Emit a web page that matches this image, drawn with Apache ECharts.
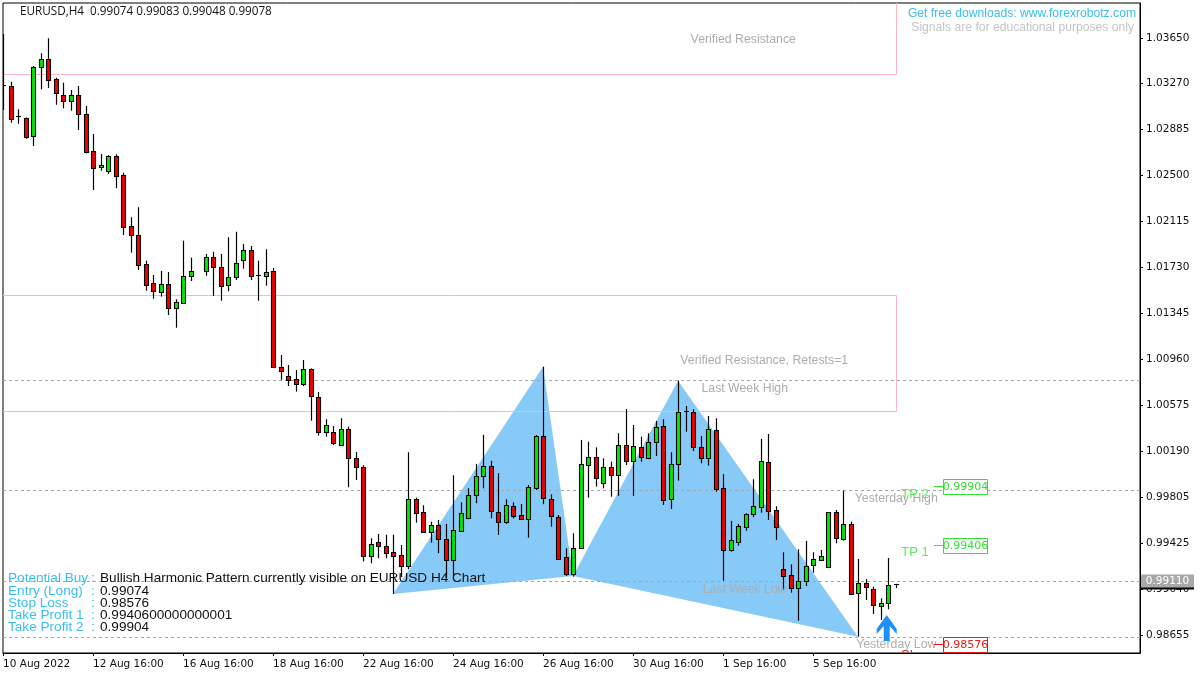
<!DOCTYPE html>
<html><head><meta charset="utf-8">
<style>html,body{margin:0;padding:0;background:#fff}#c{width:1200px;height:675px}</style>
<script src="https://cdn.jsdelivr.net/npm/echarts@6/dist/echarts.min.js"></script>
</head><body><div id="c"></div>
<script>
// [open, high, low, close] for each H4 bar
const ohlc = [
[1.03251,1.03684,1.03048,1.03255],[1.03251,1.03284,1.02941,1.02975],[1.02994,1.03053,1.02933,1.02985],[1.02978,1.02985,1.02807,1.02824],
[1.02833,1.03416,1.02746,1.03410],[1.03405,1.03522,1.03221,1.03472],[1.03472,1.03648,1.03232,1.03299],[1.03305,1.03318,1.03092,1.03192],
[1.03173,1.03276,1.03062,1.03125],[1.03125,1.03215,1.03042,1.03173],[1.03173,1.03248,1.02880,1.03014],[1.03017,1.03081,1.02685,1.02699],
[1.02702,1.02847,1.02378,1.02560],[1.02568,1.02679,1.02540,1.02585],[1.02540,1.02671,1.02512,1.02663],[1.02663,1.02677,1.02393,1.02498],
[1.02506,1.02523,1.02002,1.02066],[1.02077,1.02150,1.01854,1.02002],[1.02004,1.02234,1.01709,1.01751],[1.01757,1.01787,1.01536,1.01586],
[1.01598,1.01667,1.01469,1.01531],[1.01527,1.01701,1.01486,1.01589],[1.01589,1.01692,1.01332,1.01391],[1.01391,1.01464,1.01226,1.01439],
[1.01430,1.01954,1.01425,1.01659],[1.01659,1.01812,1.01617,1.01703],null,[1.01703,1.01843,1.01661,1.01815],
[1.01815,1.01862,1.01491,1.01737],[1.01737,1.01843,1.01452,1.01578],[1.01586,1.01983,1.01531,1.01650],[1.01648,1.02029,1.01625,1.01770],
[1.01790,1.01926,1.01720,1.01879],[1.01879,1.01910,1.01625,1.01661],[1.01669,1.01787,1.01452,1.01665],[1.01661,1.01882,1.01578,1.01695],
[1.01698,1.01726,1.00889,1.00895],[1.00897,1.00998,1.00789,1.00864],[1.00822,1.00914,1.00738,1.00789],[1.00794,1.00872,1.00691,1.00755],
[1.00755,1.00956,1.00738,1.00883],[1.00883,1.00886,1.00448,1.00655],[1.00649,1.00688,1.00323,1.00356],[1.00356,1.00460,1.00314,1.00412],
[1.00351,1.00404,1.00245,1.00259],[1.00247,1.00468,1.00236,1.00381],[1.00381,1.00398,0.99891,1.00136],[1.00139,1.00186,0.99952,1.00058],
[1.00058,1.00075,0.99271,0.99318],[0.99318,0.99464,0.99255,0.99419],[0.99433,0.99500,0.99297,0.99400],[0.99400,0.99494,0.99297,0.99344],
[0.99347,0.99494,0.98998,0.99318],[0.99322,0.99408,0.99140,0.99232],[0.99232,1.00184,0.99205,0.99790],[0.99790,0.99804,0.99595,0.99673],
[0.99687,0.99740,0.99517,0.99519],[0.99519,0.99603,0.99427,0.99573],[0.99573,0.99617,0.99339,0.99458],[0.99461,0.99584,0.99132,0.99280],
[0.99280,0.99991,0.99143,0.99531],[0.99528,0.99765,0.99519,0.99673],[0.99631,0.99882,0.99623,0.99824],[0.99824,1.00086,0.99757,0.99988],
[0.99988,1.00330,0.99882,1.00072],[1.00072,1.00113,0.99631,0.99695],[0.99687,1.00008,0.99492,0.99603],[0.99598,0.99790,0.99584,0.99745],
[0.99737,0.99765,0.99631,0.99651],[0.99659,0.99751,0.99617,0.99623],[0.99626,0.99910,0.99469,0.99896],[0.99882,1.00328,0.99868,1.00322],
[1.00322,1.00900,0.99749,0.99799],[0.99795,0.99832,0.99561,0.99648],[0.99645,0.99659,0.99282,0.99291],[0.99305,0.99380,0.99149,0.99163],
[0.99163,0.99506,0.99143,0.99383],[0.99380,1.00287,0.99375,1.00083],[1.00080,1.00272,0.99804,1.00147],[1.00144,1.00225,0.99896,0.99971],
[0.99929,1.00133,0.99882,1.00058],[1.00058,1.00105,0.99812,0.99994],[0.99994,1.00343,0.99820,1.00247],[1.00247,1.00546,1.00077,1.00113],
[1.00113,1.00412,0.99818,1.00239],[1.00230,1.00314,1.00105,1.00147],[1.00133,1.00343,1.00125,1.00272],[1.00267,1.00445,1.00153,1.00398],
[1.00404,1.00460,0.99743,0.99785],[0.99790,1.00184,0.99709,1.00083],[1.00083,1.00783,0.99946,1.00523],[1.00521,1.00571,1.00356,1.00525],
[1.00518,1.00543,1.00194,1.00225],[1.00230,1.00320,1.00092,1.00133],[1.00133,1.00487,1.00072,1.00376],[1.00368,1.00468,0.99854,0.99877],
[0.99887,1.00000,0.99109,0.99366],[0.99364,0.99609,0.99352,0.99447],[0.99436,0.99584,0.99402,0.99567],[0.99561,0.99673,0.99528,0.99667],
[0.99665,0.99958,0.99640,0.99731],[0.99729,1.00295,0.99678,1.00108],[1.00100,1.00337,0.99617,0.99695],[0.99697,0.99731,0.99450,0.99561],
[0.99205,0.99347,0.99032,0.99151],[0.99154,0.99246,0.99009,0.99048],[0.99048,0.99372,0.98775,0.99109],[0.99109,0.99442,0.99065,0.99235],
[0.99241,0.99347,0.99176,0.99288],[0.99283,0.99366,0.99277,0.99316],[0.99227,0.99684,0.99225,0.99682],[0.99682,0.99701,0.99422,0.99464],
[0.99458,0.99862,0.99444,0.99581],[0.99581,0.99603,0.98990,0.98995],[0.99004,0.99291,0.98641,0.99088],[0.99088,0.99121,0.98948,0.99059],
[0.99040,0.99059,0.98831,0.98906],[0.98900,0.98962,0.98780,0.98920],[0.98925,0.99299,0.98870,0.99071],[0.99074,0.99083,0.99048,0.99078]
];
const timeLabels = ['10 Aug 2022','12 Aug 16:00','16 Aug 16:00','18 Aug 16:00','22 Aug 16:00','24 Aug 16:00','26 Aug 16:00','30 Aug 16:00','1 Sep 16:00','5 Sep 16:00'];
const barsPerTimeLabel = 12;
const priceTicks = [1.0365,1.0327,1.02885,1.025,1.02115,1.0173,1.01345,1.0096,1.00575,1.0019,0.99805,0.99425,0.9904,0.98655];
const priceMin = 0.98504, priceMax = 1.03943, barMax = 151.6;

// harmonic pattern pivots [bar, price]
const pivotX = [52,0.98998], pivotA = [72,1.00900], pivotB = [76,0.99149], pivotC = [90,1.00783], pivotD = [114,0.98641];
const patternTriangles = [[pivotX,pivotA,pivotB],[pivotB,pivotC,pivotD]];
// resistance zones [first bar, last bar, top, bottom]; they run off the chart's left edge, the first also off its top
const zones = [[-2,119,1.04000,1.03349],[-2,119,1.01500,1.00529]];
const levels = [1.00790,0.99864,0.99110,0.98641];
// chart annotations
const noteTexts = ['Verified Resistance','Verified Resistance, Retests=1','Last Week High','Yesterday High','Last Week Low','Yesterday Low','TP 2','TP 1','SL'];
const noteBars = [98.7,101.5,98.9,119.1,98.9,119.1,121.6,121.6,120.8];
const notePrices = [1.03642,1.00956,1.00722,0.99801,0.99040,0.98580,0.99843,0.99350,0.98488];
const noteKinds = ['g','g','g','g','g','g','tp','tp','sl'];
// trade level boxes
const tradeValues = [0.99904,0.99406,0.98576];
const tradeKinds = ['tp','tp','sl'];
const tradeBoxBar = 128.3, tradeLeaderBar = 124.1;
const arrowPoint = [118,0.98714];
const levelTag = 0.99110, currentPrice = 0.99078;
const headline = 'EURUSD,H4  0.99074 0.99083 0.99048 0.99078';
const promoTexts = ['Get free downloads: www.forexrobotz.com','Signals are for educational purposes only'];
const panelKeys = ['Potential Buy','Entry (Long)','Stop Loss','Take Profit 1','Take Profit 2'];
const panelValues = ['Bullish Harmonic Pattern currently visible on EURUSD H4 Chart','0.99074','0.98576','0.9940600000000001','0.99904'];

const AX = '"DejaVu Sans"', TXT = '"Liberation Sans"';
const GREEN = '#00E800', RED = '#EE0000', GRAY = '#ADADAD', TPC = '#55F055', SLC = '#EE2222', BLUE = '#3DBDEE';
const noteColor = {g:GRAY,tp:TPC,sl:SLC};

const crisp = v => Math.round(v) + 0.5;
const candleData = [];
ohlc.forEach((r,i)=>{ if(r) candleData.push([i,r[0],r[1],r[2],r[3]]); });

const series = [
 {type:'custom',name:'pattern',z:2,silent:true,clip:true,data:patternTriangles.map((t,i)=>[t[0][0],t[0][1],i]),
  encode:{x:0,y:1},renderItem(p,api){
    const t = patternTriangles[p.dataIndex];
    return {type:'polygon',shape:{points:t.map(v=>api.coord(v))},style:{fill:'#87CAF8'}};
 }},
 {type:'custom',name:'zones',z:3,silent:true,clip:true,data:zones.map(z=>[z[0],z[2]]),encode:{x:0,y:1},renderItem(p,api){
    const z = zones[p.dataIndex], a = api.coord([z[0],z[2]]), b = api.coord([z[1],z[3]]);
    return {type:'rect',shape:{x:crisp(a[0]),y:crisp(a[1]),width:Math.round(b[0]-a[0]),height:Math.round(b[1]-a[1])},
      style:{fill:'none',stroke:'#FFB4C6',lineWidth:1}};
 }},
 {type:'custom',name:'levels',z:3,silent:true,clip:true,data:levels.map(l=>[0,l]),encode:{x:0,y:1},renderItem(p,api){
    const a = api.coord([0,api.value(1)]), b = api.coord([barMax,api.value(1)]);
    return {type:'line',shape:{x1:a[0],y1:crisp(a[1]),x2:b[0],y2:crisp(a[1])},style:{stroke:'#A6A6A6',lineWidth:1,lineDash:[3,3]}};
 }},
 {type:'custom',name:'candles',z:4,silent:true,clip:true,data:candleData,encode:{x:0,y:[1,2,3,4]},renderItem(p,api){
    const i=api.value(0),o=api.value(1),h=api.value(2),l=api.value(3),c=api.value(4);
    const x=crisp(api.coord([i,o])[0]);
    const yo=api.coord([i,o])[1],yc=api.coord([i,c])[1],yh=api.coord([i,h])[1],yl=api.coord([i,l])[1];
    const top=crisp(Math.min(yo,yc)),bot=crisp(Math.max(yo,yc));
    const up=c>=o, flat=bot-top<1.5;
    return {type:'group',children:[
      {type:'line',shape:{x1:x,y1:yh,x2:x,y2:yl},style:{stroke:'#000',lineWidth:1.2}},
      flat?{type:'line',shape:{x1:x-2.5,y1:top,x2:x+2.5,y2:top},style:{stroke:'#000',lineWidth:1}}
          :{type:'rect',shape:{x:x-2,y:top,width:4,height:bot-top},style:{fill:up?GREEN:RED,stroke:'#000',lineWidth:1.1}}
    ]};
 }},
 {type:'custom',name:'arrow',z:5,silent:true,clip:true,data:[arrowPoint],encode:{x:0,y:1},renderItem(p,api){
    const c=api.coord([api.value(0),api.value(1)]),x=c[0]-1.3,y=c[1];
    return {type:'polygon',shape:{points:[[x,y-13],[x+10,y+1],[x+10,y+6],[x+3,y-2],[x+3,y+13],[x-3,y+13],[x-3,y-2],[x-10,y+6],[x-10,y+1]]},style:{fill:'#1E8FFF'}};
 }},
 {type:'custom',name:'notes',z:6,silent:true,clip:true,data:noteBars.map((b,i)=>[b,notePrices[i]]),encode:{x:0,y:1},renderItem(p,api){
    const c=api.coord([api.value(0),api.value(1)]),k=noteKinds[p.dataIndex];
    return {type:'text',x:c[0],y:c[1]+1,style:{text:noteTexts[p.dataIndex],fill:noteColor[k],font:(k==='g'?'12.3':'13')+'px '+TXT,align:'center',verticalAlign:'middle'}};
 }},
 {type:'custom',name:'tradeBoxes',z:6,silent:true,clip:true,data:tradeValues.map(v=>[tradeBoxBar,v]),encode:{x:0,y:1},renderItem(p,api){
    const v=api.value(1),k=tradeKinds[p.dataIndex],col=k==='sl'?'#E81C1C':'#33E033';
    const c=api.coord([tradeBoxBar,v]),s=api.coord([tradeLeaderBar,v]);
    const y=crisp(c[1]),x=crisp(c[0]-22);
    return {type:'group',children:[
      {type:'line',shape:{x1:s[0],y1:y,x2:x,y2:y},style:{stroke:col,lineWidth:1}},
      {type:'rect',shape:{x:x,y:y-7,width:44,height:15},style:{fill:'#fff',stroke:col,lineWidth:1}},
      {type:'text',x:x+22,y:y+0.5,style:{text:v.toFixed(5),fill:col,font:'11px '+AX,align:'center',verticalAlign:'middle'}}
    ]};
 }},
 {type:'custom',name:'priceTags',z:7,silent:true,clip:false,data:[[barMax,currentPrice,0],[barMax,levelTag,1]],encode:{x:0,y:1},renderItem(p,api){
    const c=api.coord([barMax,api.value(1)]),x=Math.round(c[0])+1,y=Math.round(c[1]);
    if(api.value(2)===0) return {type:'rect',shape:{x:x,y:y-6,width:53,height:11.5},style:{fill:'#000'}};
    return {type:'group',children:[
      {type:'rect',shape:{x:x,y:y-6.5,width:53,height:13},style:{fill:'#A9A9A9'}},
      {type:'text',x:x+26.5,y:y+0.5,style:{text:levelTag.toFixed(5),fill:'#fff',font:'10.5px '+AX,align:'center',verticalAlign:'middle'}}
    ]};
 }}
];

const gfx = [
 {type:'text',x:20,y:12,z:20,style:{text:headline,fill:'#111',font:'11.7px "Open Sans"',verticalAlign:'middle'}},
 {type:'text',x:1136,y:14,z:20,style:{text:promoTexts[0],fill:BLUE,font:'12.15px '+TXT,align:'right',verticalAlign:'middle'}},
 {type:'text',x:1134,y:28,z:20,style:{text:promoTexts[1],fill:'#C4C4C4',font:'12.15px '+TXT,align:'right',verticalAlign:'middle'}}
];
const panelRows = [578.5,591,603,615,627];
panelKeys.forEach((k,i)=>{
  gfx.push({type:'text',x:8,y:panelRows[i],z:20,style:{text:k,fill:BLUE,font:'13.6px '+TXT,verticalAlign:'middle'}});
  gfx.push({type:'text',x:91,y:panelRows[i],z:20,style:{text:':',fill:BLUE,font:'13.6px '+TXT,verticalAlign:'middle'}});
  gfx.push({type:'text',x:100,y:panelRows[i],z:20,style:{text:panelValues[i],fill:'#111',font:'13.6px '+TXT,verticalAlign:'middle'}});
});

const chart = echarts.init(document.getElementById('c'),null,{renderer:'canvas'});
chart.setOption({
  animation:false,backgroundColor:'#fff',
  grid:{left:3,right:60,top:3,bottom:22,show:true,borderColor:'#000',borderWidth:1,backgroundColor:'#fff'},
  xAxis:{type:'value',min:0,max:barMax,splitLine:{show:false},
    axisLine:{show:true,lineStyle:{color:'#000',width:1}},
    axisTick:{show:true,length:3,lineStyle:{color:'#000'},customValues:timeLabels.map((_,i)=>i*barsPerTimeLabel)},
    axisLabel:{show:true,color:'#111',fontFamily:'DejaVu Sans',fontSize:10.5,margin:6,align:'left',
      customValues:timeLabels.map((_,i)=>i*barsPerTimeLabel),hideOverlap:false,
      formatter:v=>timeLabels[Math.round(v/barsPerTimeLabel)]||''}},
  yAxis:{type:'value',position:'right',min:priceMin,max:priceMax,splitLine:{show:false},
    axisLine:{show:true,onZero:false,lineStyle:{color:'#000',width:1}},
    axisTick:{show:true,length:3,lineStyle:{color:'#000'},customValues:priceTicks},
    axisLabel:{show:true,color:'#111',fontFamily:'DejaVu Sans',fontSize:10.5,margin:6,padding:[2,0,0,0],customValues:priceTicks,formatter:v=>v.toFixed(5)}},
  series:series,graphic:{elements:gfx}
});
</script></body></html>
